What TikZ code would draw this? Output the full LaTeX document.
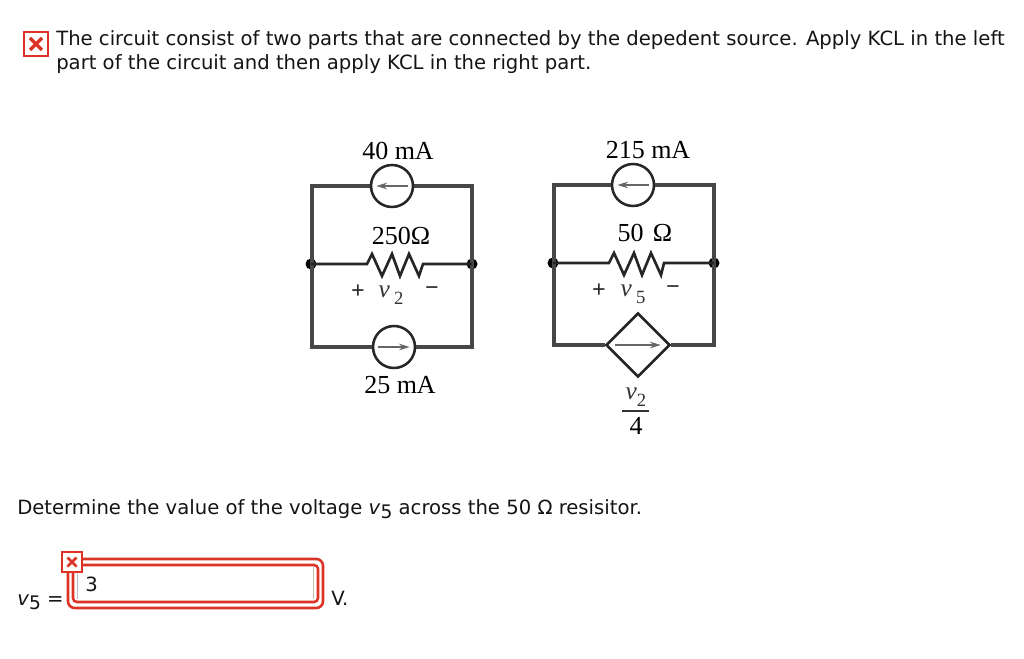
\documentclass[tikz,border=0pt]{standalone}
\usepackage{fontspec}
\setmainfont{DejaVu Sans}
\newfontfamily\circuitFont{Liberation Serif}
\usetikzlibrary{arrows.meta,shapes.geometric}
\definecolor{errRed}{RGB}{221,51,38}
\definecolor{inkGray}{RGB}{20,20,20}
\newcommand{\pageWidth}{1024}
\newcommand{\pageHeight}{659}
\newcommand{\subText}[1]{\raisebox{-3.5pt}{\fontsize{14pt}{15pt}\selectfont #1}}
\newcommand{\subCircuit}[1]{\raisebox{-5pt}{\fontsize{14pt}{15pt}\selectfont #1}}
\tikzset{
  prompt/.style={anchor=base west,inner sep=0pt,text=inkGray,font=\fontsize{14.72pt}{18pt}\selectfont},
  value/.style={inner sep=0pt,text=black,font=\circuitFont\fontsize{19.5pt}{22pt}\selectfont},
  sign/.style={inner sep=0pt,text=black!85,font=\circuitFont\bfseries\fontsize{18pt}{20pt}\selectfont},
  volt/.style={inner sep=0pt,text=black!80,font=\circuitFont\fontsize{19pt}{20pt}\selectfont},
  wire/.style={line width=2.3pt,black!72,line join=miter},
  reswire/.style={line width=2pt,black!85,line join=miter},
  source/.style={circle,draw=black!85,line width=1.9pt,minimum size=42*0.75pt,inner sep=0pt},
  depsource/.style={diamond,draw=black!85,line width=1.9pt,minimum width=64*0.75pt,minimum height=64*0.75pt,inner sep=0pt},
  srcarrow/.style={line width=1pt,black!60,-{Stealth[length=8pt,width=5pt]}},
  dot/.style={circle,fill=black,inner sep=0pt,minimum size=11*0.75pt},
  errbox/.style={rectangle,draw=errRed,fill=white,line width=1.6pt,inner sep=0pt},
  errmark/.style={errRed,line width=2.6pt},
  inputring/.style={draw=errRed,line width=1.9pt,rounded corners=5pt},
  resistor/.style={to path={-- ++(5,-10) -- ++(10,22) -- ++(10,-22) -- ++(8,22) -- ++(9,-22) -- ++(10,22) -- (\tikztotarget)}}
}
\begin{document}
\begin{tikzpicture}[x=0.75pt,y=-0.75pt]
\useasboundingbox (0,0) rectangle (\pageWidth,\pageHeight);
% text at the top
\node[errbox,minimum size=24*0.75pt] (topIcon) at (36,44) {};
\draw[errmark] ([shift={(-6,-6)}]topIcon.center) -- ([shift={(6,6)}]topIcon.center);
\draw[errmark] ([shift={(-6,6)}]topIcon.center) -- ([shift={(6,-6)}]topIcon.center);
\node[prompt] (lineOne) at (56,46) {The circuit consist of two parts that are connected by the depedent source. Apply KCL in the left};
\node[prompt] (lineTwo) at (56,70) {part of the circuit and then apply KCL in the right part.};

% left circuit
\coordinate (a1) at (312,186);
\coordinate (a2) at (472,186);
\coordinate (a3) at (312,347);
\coordinate (a4) at (472,347);
\node[dot] (aLeft) at (311,264) {};
\node[dot] (aRight) at (472,264) {};
\node[source] (src40) at (392,186) {};
\node[source] (src25) at (394,347) {};
\coordinate (r2a) at (367,264);
\coordinate (r2b) at (423,264);
\draw[wire] (src40) -- (a1) -- (a3) -- (src25);
\draw[wire] (src40) -- (a2) -- (a4) -- (src25);
\draw[reswire] (aLeft.center) -- (r2a) to[resistor] (r2b) -- (aRight.center);
\draw[srcarrow] ([xshift=-5]src40.east) -- ([xshift=5]src40.west);
\draw[srcarrow] ([xshift=5]src25.west) -- ([xshift=-5]src25.east);
\node[value] (lab40) at (398,151) {40 mA};
\node[value] (lab250) at (401,236) {250Ω};
\node[value] (lab25) at (400,385) {25 mA};
\node[sign] (plus2) at (358,292) {+};
\node[sign] (minus2) at (432,291) {−};
\node[volt] (volt2) at (391,295) {\textit{v}\,\subCircuit{2}};

% right circuit
\coordinate (b1) at (554,185);
\coordinate (b2) at (714,185);
\coordinate (b3) at (554,345);
\coordinate (b4) at (714,345);
\node[dot] (bLeft) at (553,263) {};
\node[dot] (bRight) at (714,263) {};
\node[source] (src215) at (633,185) {};
\node[depsource] (srcDep) at (638,345) {};
\coordinate (r5a) at (609,263);
\coordinate (r5b) at (664,263);
\draw[wire] (src215) -- (b1) -- (b3) -- (srcDep);
\draw[wire] (src215) -- (b2) -- (b4) -- (srcDep);
\draw[reswire] (bLeft.center) -- (r5a) to[resistor] (r5b) -- (bRight.center);
\draw[srcarrow] ([xshift=-5]src215.east) -- ([xshift=5]src215.west);
\draw[srcarrow] ([xshift=8]srcDep.west) -- ([xshift=-8]srcDep.east);
\node[value] (lab215) at (648,150) {215 mA};
\node[value] (lab50) at (645,233) {50\hspace{7pt}Ω};
\node[sign] (plus5) at (599,291) {+};
\node[sign] (minus5) at (673,290) {−};
\node[volt] (volt5) at (633,294) {\textit{v}\,\subCircuit{5}};
\node[volt] (fracTop) at (636,397) {\textit{v}\subCircuit{2}};
\node[value] (fracBottom) at (636,426) {4};
\coordinate (fracL) at (622,411);
\coordinate (fracR) at (649,411);
\draw[line width=1.2pt,black!80] (fracL) -- (fracR);

% question and answer box
\node[prompt] (question) at (17,514) {Determine the value of the voltage \textit{v}\subText{5} across the 50 Ω resisitor.};
\node[prompt] (answerName) at (17,605) {\textit{v}\subText{5} =};
\node[inputring,minimum width=255*0.75pt,minimum height=49*0.75pt,inner sep=0pt] (ringOuter) at (195.5,583.5) {};
\node[inputring,rounded corners=3pt,minimum width=245*0.75pt,minimum height=37*0.75pt,inner sep=0pt] (ringInner) at (195.5,583.5) {};
\draw[black!25,line width=1pt] (ringInner.north west) ++(6,2) coordinate (g1) -- ++(0,33) coordinate (g2);
\draw[black!25,line width=1pt] (ringInner.north east) ++(-6,2) coordinate (g3) -- ++(0,33) coordinate (g4);
\node[prompt] (answer) at (85,591) {3};
\node[prompt] (unit) at (331,605) {V.};
\node[errbox,minimum size=20*0.75pt] (boxIcon) at (72,562) {};
\draw[errmark,line width=2pt] ([shift={(-4.5,-4.5)}]boxIcon.center) -- ([shift={(4.5,4.5)}]boxIcon.center);
\draw[errmark,line width=2pt] ([shift={(-4.5,4.5)}]boxIcon.center) -- ([shift={(4.5,-4.5)}]boxIcon.center);
\end{tikzpicture}
\end{document}
